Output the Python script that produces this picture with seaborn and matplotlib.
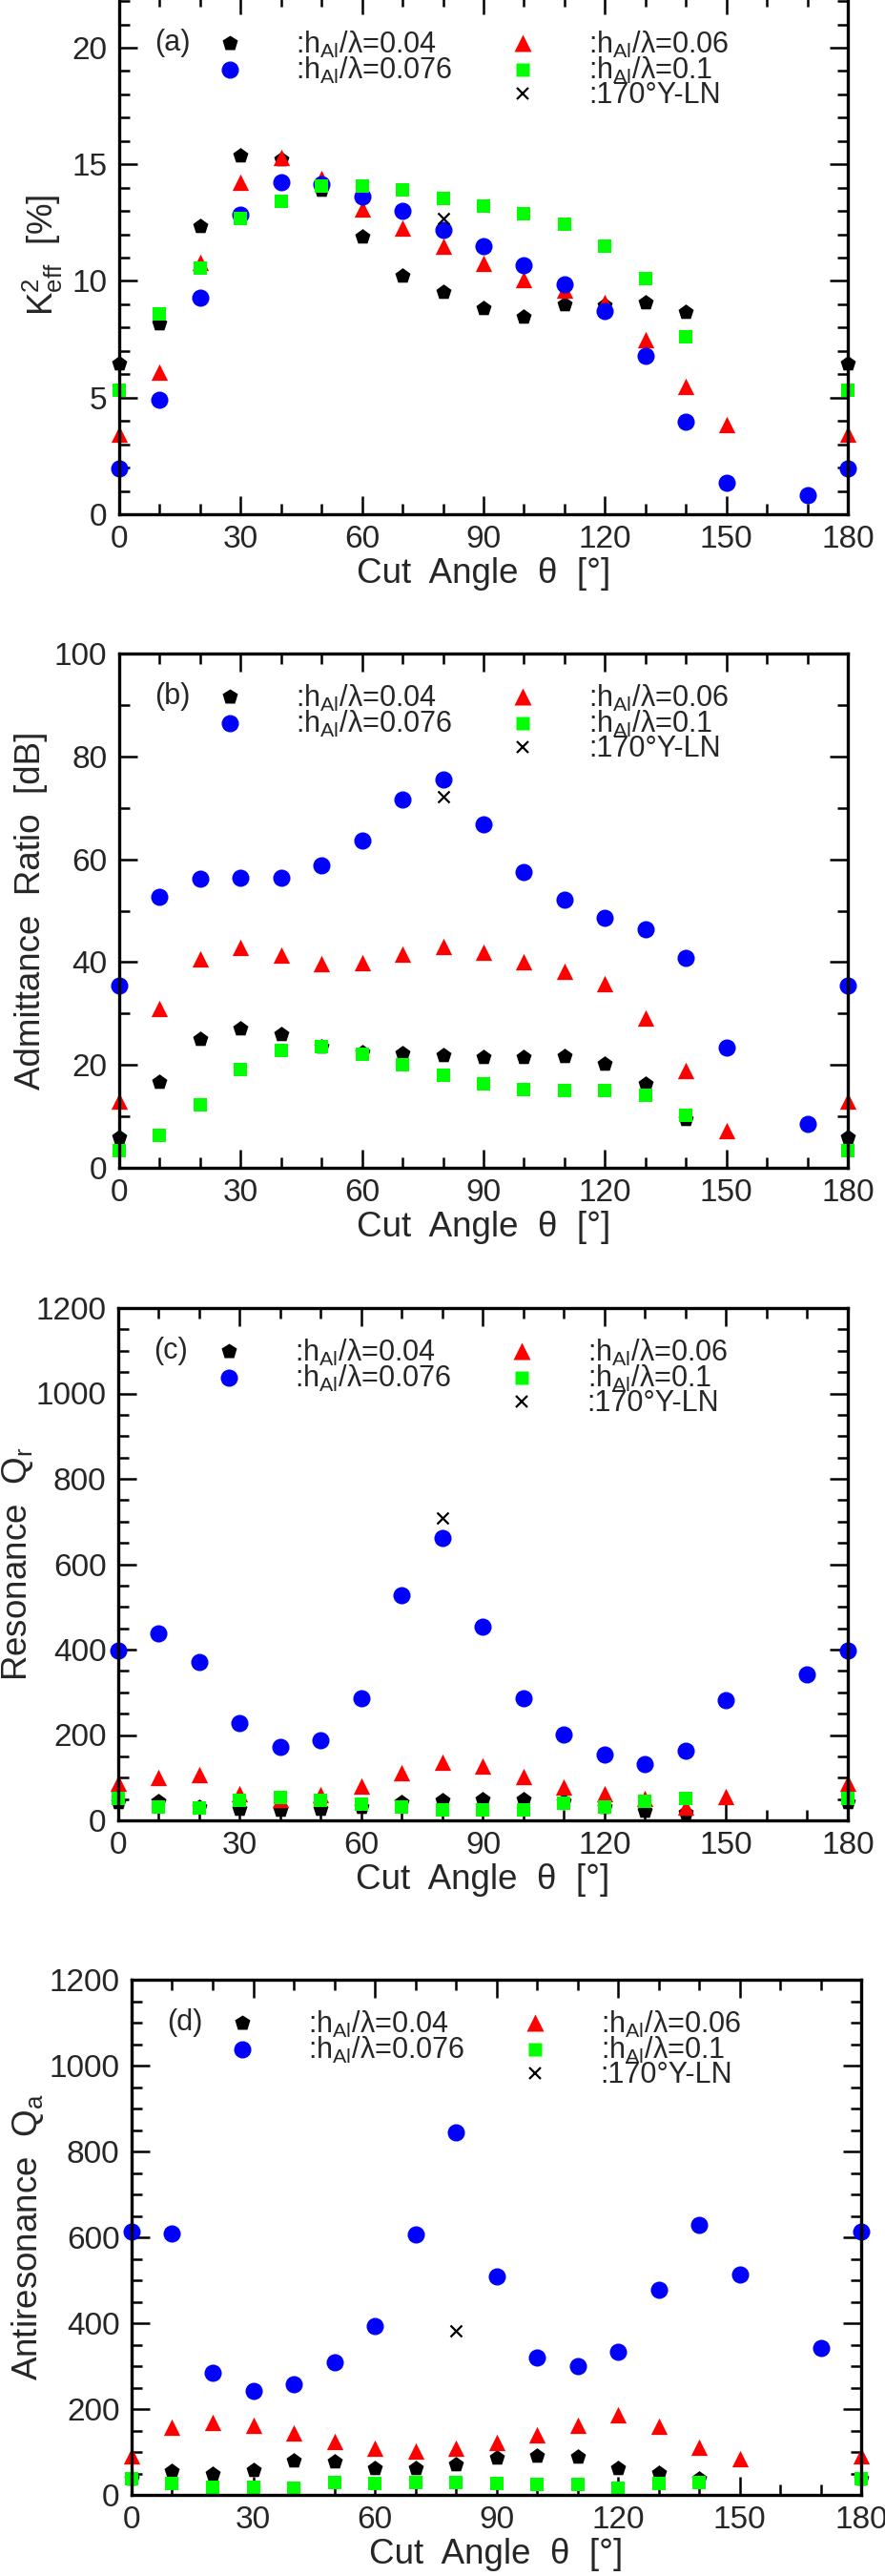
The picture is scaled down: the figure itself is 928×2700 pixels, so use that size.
import numpy as np
import pandas as pd
import matplotlib
matplotlib.use('Agg')
import matplotlib.pyplot as plt
import seaborn as sns
from matplotlib.lines import Line2D
from matplotlib.ticker import MultipleLocator

'''DATA (read off the reference)'''
angle_040 = [0, 10, 20, 30, 40, 50, 60, 70, 80, 90, 100, 110, 120, 130, 140, 180]
angle_060 = [0, 10, 20, 30, 40, 50, 60, 70, 80, 90, 100, 110, 120, 130, 140, 150, 180]
angle_076 = [0, 10, 20, 30, 40, 50, 60, 70, 80, 90, 100, 110, 120, 130, 140, 150, 170, 180]
angle_100 = [0, 10, 20, 30, 40, 50, 60, 70, 80, 90, 100, 110, 120, 130, 140, 180]
angle_yln = [80]

#(a) K2eff [%]
k2_040 = [6.45, 8.16, 12.34, 15.39, 15.2, 13.9, 11.9, 10.23, 9.53, 8.83, 8.47, 8.98, 8.95, 9.06, 8.67, 6.45]
k2_060 = [3.44, 6.1, 10.8, 14.25, 15.3, 14.4, 13.08, 12.27, 11.5, 10.75, 10.08, 9.6, 9.1, 7.5, 5.5, 3.83, 3.44]
k2_076 = [1.95, 4.9, 9.3, 12.85, 14.22, 14.14, 13.6, 13.0, 12.2, 11.5, 10.67, 9.84, 8.7, 6.77, 3.95, 1.33, 0.83, 1.95]
k2_100 = [5.31, 8.6, 10.55, 12.69, 13.42, 14.06, 14.06, 13.9, 13.55, 13.2, 12.9, 12.42, 11.48, 10.1, 7.6, 5.31]
k2_yln = [12.69]

#(b) Admittance ratio [dB]
ar_040 = [6.0, 16.7, 25.1, 27.1, 26.0, 23.5, 22.4, 22.3, 21.9, 21.5, 21.5, 21.7, 20.2, 16.3, 9.4, 6.0]
ar_060 = [12.9, 31.0, 40.7, 42.8, 41.3, 39.7, 39.9, 41.5, 43.1, 41.9, 40.0, 38.2, 35.8, 29.2, 18.9, 7.2, 12.9]
ar_076 = [35.4, 52.6, 56.2, 56.4, 56.4, 58.8, 63.6, 71.7, 75.6, 66.8, 57.6, 52.1, 48.7, 46.3, 40.9, 23.3, 8.5, 35.4]
ar_100 = [3.4, 6.4, 12.2, 19.1, 22.9, 23.5, 22.1, 20.1, 18.0, 16.3, 15.3, 15.1, 15.1, 14.1, 10.2, 3.4]
ar_yln = [72.1]

#(c) Resonance Qr
qr_040 = [42, 44, 32, 27, 25, 27, 32, 42, 48, 49, 49, 44, 32, 22, 17, 42]
qr_060 = [87, 100, 108, 63, 50, 61, 80, 112, 136, 127, 103, 78, 63, 51, 32, 56, 87]
qr_076 = [398, 439, 371, 228, 171, 187, 286, 528, 662, 453, 287, 202, 155, 131, 163, 282, 342, 398]
qr_100 = [51, 32, 30, 47, 54, 48, 37, 32, 24, 24, 25, 40, 32, 44, 51, 51]
qr_yln = [708]

#(d) Antiresonance Qa
qa_040 = [38, 55, 48, 58, 81, 78, 62, 62, 71, 87, 92, 89, 62, 52, 38, 38]
qa_060 = [92, 158, 170, 163, 144, 125, 109, 103, 109, 122, 141, 163, 187, 160, 112, 84, 92]
qa_076 = [613, 609, 284, 243, 258, 309, 394, 606, 845, 510, 321, 299, 333, 478, 629, 514, 342, 613]
qa_100 = [37, 26, 17, 17, 16, 29, 27, 29, 30, 27, 25, 24, 16, 27, 30, 37]
qa_yln = [382]

x_ticks = [0, 30, 60, 90, 120, 150, 180]
x_tick_labels = ['0', '30', '60', '90', '120', '150', '180']

lab_040 = r':h$_{\rm Al}$/λ=0.04'
lab_060 = r':h$_{\rm Al}$/λ=0.06'
lab_076 = r':h$_{\rm Al}$/λ=0.076'
lab_100 = r':h$_{\rm Al}$/λ=0.1'
lab_yln = ':170°Y-LN'

'''STYLE'''
sns.set_style('ticks')
plt.rcParams['font.family'] = ['Liberation Sans', 'DejaVu Sans']
plt.rcParams['mathtext.fontset'] = 'custom'
plt.rcParams['mathtext.rm'] = 'Liberation Sans'
plt.rcParams['mathtext.it'] = 'Liberation Sans:italic'
plt.rcParams['mathtext.bf'] = 'Liberation Sans:bold'
plt.rcParams['axes.linewidth'] = 2.4
plt.rcParams['axes.edgecolor'] = 'black'

c_black, c_red, c_blue, c_green = '#000000', '#ff0000', '#0000ff', '#00ff00'

#panel rectangles in pixels: left, top, right, bottom
fig_w, fig_h = 929, 2700
rects = [(125, -3.8, 889, 539),
         (125, 685, 889, 1224),
         (124, 1371, 889, 1908),
         (138, 2075, 903, 2615)]
ylabel_right = [68, 50, 37, 48]

fig = plt.figure(figsize=(fig_w / 100, fig_h / 100), dpi=100)


def makeAxes(r):
    l, t, rr, b = r
    return fig.add_axes([l / fig_w, 1 - b / fig_h, (rr - l) / fig_w, (b - t) / fig_h])


def plotPanel(ax, r, yr, vals, ylim, major, minor, ylabel, tag):
    #data, drawn black -> red -> blue -> green -> cross
    series = [(angle_040, vals[0], 'p', 146, c_black),
              (angle_060, vals[1], '^', 155, c_red),
              (angle_076, vals[2], 'o', 169, c_blue),
              (angle_100, vals[3], 's', 88, c_green)]
    for ang, v, m, s, c in series:
        sns.scatterplot(x=ang, y=v, ax=ax, marker=m, s=s, color=c,
                        linewidth=0, clip_on=False, legend=False)
    sns.scatterplot(x=angle_yln, y=vals[4], ax=ax, marker='x', s=75,
                    color='black', linewidth=1.6, clip_on=False, legend=False)

    #axes specs
    ax.set_xlim(0, 180)
    ax.set_ylim(*ylim)
    ax.set_xticks(x_ticks)
    ax.set_xticklabels(x_tick_labels, fontsize=24)
    yt = np.arange(ylim[0], 1200 + 1, major)
    yt = yt[yt <= ylim[1]]
    ax.set_yticks(yt)
    ax.set_yticklabels([str(int(v)) for v in yt], fontsize=24)
    ax.xaxis.set_minor_locator(MultipleLocator(10))
    ax.yaxis.set_minor_locator(MultipleLocator(minor))
    ax.tick_params(which='both', direction='in', top=True, right=True,
                   width=1.8, color='black')
    ax.tick_params(which='major', length=14)
    ax.tick_params(which='minor', length=8)
    ax.tick_params(axis='x', which='major', pad=8)
    ax.tick_params(axis='y', which='major', pad=9)
    for sp in ax.spines.values():
        sp.set_visible(True)
        sp.set_linewidth(2.4)
    l, t, rr, b = r
    w, h = rr - l, b - t
    ax.set_xlabel('Cut  Angle  θ  [°]', fontsize=26.5, labelpad=2)
    ax.set_ylabel(ylabel, fontsize=26.5)
    ax.yaxis.set_label_coords((yr - l) / w, 0.5)

    #key, two columns
    fs = 22
    fpx = fs * 100 / 72
    kw = dict(loc='upper left', frameon=False, fontsize=fs, handlelength=1.0,
              handletextpad=1.75, labelspacing=-0.16, borderpad=0,
              borderaxespad=0)
    h040 = Line2D([], [], ls='none', marker='p', ms=12.1, color=c_black, mec='none')
    h060 = Line2D([], [], ls='none', marker='^', ms=12.5, color=c_red, mec='none')
    h076 = Line2D([], [], ls='none', marker='o', ms=13.0, color=c_blue, mec='none')
    h100 = Line2D([], [], ls='none', marker='s', ms=9.4, color=c_green, mec='none')
    hyln = Line2D([], [], ls='none', marker='x', ms=8.7, color='black', mew=1.6)
    topPad = 31 - min(t, 0)
    ytop = 1 - topPad / h
    leg1 = ax.legend([h040, h076], [lab_040, lab_076],
                     bbox_to_anchor=((116 - fpx / 2) / w, ytop), **kw)
    ax.add_artist(leg1)
    ax.legend([h060, h100, hyln], [lab_060, lab_100, lab_yln],
              bbox_to_anchor=((423 - fpx / 2) / w, ytop), **kw)
    ax.text(37 / w, 1 - (45 - min(t, 0)) / h, tag, transform=ax.transAxes,
            fontsize=fs, va='center', ha='left')


axes = [makeAxes(r) for r in rects]
vals = [[k2_040, k2_060, k2_076, k2_100, k2_yln],
        [ar_040, ar_060, ar_076, ar_100, ar_yln],
        [qr_040, qr_060, qr_076, qr_100, qr_yln],
        [qa_040, qa_060, qa_076, qa_100, qa_yln]]
ylims = [(0, 22.2), (0, 100), (0, 1200), (0, 1200)]
majors = [5, 20, 200, 200]
minors = [1, 10, 50, 50]
ylabels = [r'K$^{2}_{\rm eff}$  [%]', 'Admittance  Ratio  [dB]',
           r'Resonance  Q$_{\rm r}$', r'Antiresonance  Q$_{\rm a}$']
tags = ['(a)', '(b)', '(c)', '(d)']
for i in range(4):
    plotPanel(axes[i], rects[i], ylabel_right[i], vals[i], ylims[i],
              majors[i], minors[i], ylabels[i], tags[i])

plt.savefig('out.png', dpi=100)
